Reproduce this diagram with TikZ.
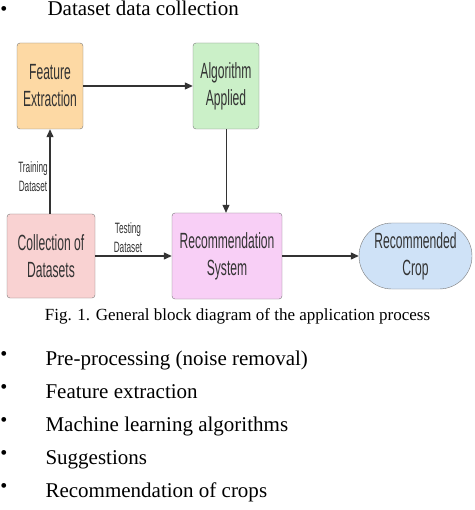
\documentclass[tikz,border=0pt]{standalone}
\usepackage{fontspec}
\setmainfont{Liberation Serif}
\newfontfamily\boxfont[FakeStretch=0.55]{Liberation Sans}
\usetikzlibrary{arrows.meta,shapes.misc}
\definecolor{feorange}{HTML}{FDD9A4}
\definecolor{aagreen}{HTML}{CBF0C8}
\definecolor{cdpink}{HTML}{F9D2D2}
\definecolor{rsmagenta}{HTML}{F8CFF6}
\definecolor{rcblue}{HTML}{CFE2F7}
\definecolor{boxline}{HTML}{7A7A7A}
\definecolor{boxtext}{HTML}{333333}
\definecolor{arrowgray}{HTML}{333333}
\begin{document}
\begin{tikzpicture}[x=1pt,y=-1pt,
    block/.style={draw=boxline,rounded corners=3pt,minimum width=66pt,minimum height=86pt,
        align=center,inner sep=0pt,text=boxtext,font=\boxfont\fontsize{22}{27}\selectfont},
    flow/.style={draw=arrowgray,line width=1.2pt,-{Triangle[length=8pt,width=7pt]}},
    note/.style={align=center,text=boxtext,font=\boxfont\fontsize{15}{19}\selectfont},
    item/.style={anchor=base west,font=\fontsize{21}{25}\selectfont},
    dot/.style={anchor=base,font=\fontsize{20}{22}\selectfont}]
    \useasboundingbox (0,0) rectangle (474,510);
    % Blocks
    \node[block,fill=feorange] (fe) at (50,86) {Feature\\Extraction};
    \node[block,fill=aagreen] (aa) at (226,86) {Algorithm\\Applied};
    \node[block,fill=cdpink,minimum width=88pt,minimum height=84pt] (cd) at (51,256) {Collection of\\Datasets};
    \node[block,fill=rsmagenta,minimum width=110pt] (rs) at (227,256) {Recommendation\\System};
    \node[block,fill=rcblue,sharp corners,rounded rectangle,minimum width=113pt,minimum height=66pt] (rc) at (415.5,256) {Recommended\\Crop};
    % Connectors
    \draw[flow] (fe.east) -- (aa.west);
    \draw[flow] (cd.north -| fe.south) -- (fe.south);
    \draw[flow,line width=0.8pt] (aa.south) -- (aa.south |- rs.north);
    \draw[flow] (cd.east) -- (rs.west);
    \draw[flow] (rs.east) -- (rc.west);
    \node[note] (train) at (33,177) {Training\\Dataset};
    \node[note] (test) at (128,238) {Testing\\Dataset};
    % Text around the figure
    \node[dot] (dot0) at (4,15.6) {\textbullet};
    \node[item] (item0) at (44,16) {Dataset data collection};
    \node[anchor=base,font=\fontsize{17}{20}\selectfont] (cap) at (237.5,320) {Fig. 1. General block diagram of the application process};
    \foreach \txt [count=\i] in {Pre-processing (noise removal),Feature extraction,Machine learning algorithms,Suggestions,Recommendation of crops}{
        \node[dot] (dot\i) at (4,360.6+33*\i-33) {\textbullet};
        \node[item] (item\i) at (42,365+33*\i-33) {\txt};
    }
\end{tikzpicture}
\end{document}
